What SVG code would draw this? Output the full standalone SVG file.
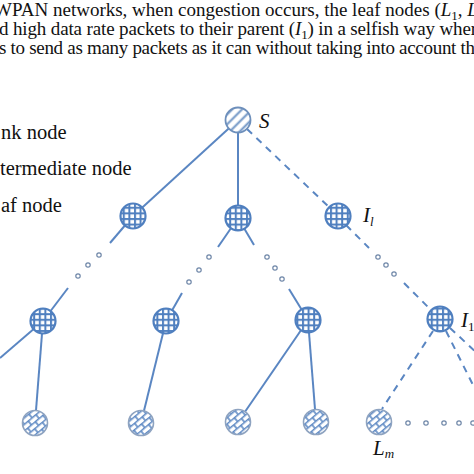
<svg xmlns="http://www.w3.org/2000/svg" width="474" height="474" viewBox="0 0 474 474">
<style>
.txt{font-family:"Liberation Serif","Times New Roman",serif;font-size:19px;fill:#111}
.leg{font-family:"Liberation Serif","Times New Roman",serif;font-size:20.5px;fill:#111}
.lbl{font-family:"Liberation Serif","Times New Roman",serif;font-size:21px;font-style:italic;fill:#111}
.sub{font-size:13px;font-style:italic}
.subn{font-size:13px;font-style:normal}
.solid{stroke:#5a86c2;stroke-width:2;fill:none}
.dash{stroke:#5a86c2;stroke-width:2;fill:none;stroke-dasharray:7 6}
.dot{fill:#fff;stroke:#6f87a8;stroke-width:1.2}
.sink{fill:url(#hatch);stroke:#6d8fbb;stroke-width:1.8}
.inter{fill:url(#grid);stroke:#4f7fbf;stroke-width:2.2}
.leaf{fill:url(#brick);stroke:#8ea3c0;stroke-width:1.6}
</style>
<defs>
<pattern id="hatch" patternUnits="userSpaceOnUse" width="7" height="7" patternTransform="rotate(-45)">
<rect width="7" height="7" fill="#fff"/>
<line x1="0" y1="3.5" x2="7" y2="3.5" stroke="#6d93c4" stroke-width="2"/>
</pattern>
<pattern id="grid" patternUnits="userSpaceOnUse" width="5.6" height="5.6" x="0.5" y="0.5">
<rect width="5.6" height="5.6" fill="#4f7fbf"/>
<rect x="1.1" y="1.1" width="3.6" height="3.6" fill="#fff"/>
</pattern>
<pattern id="brick" patternUnits="userSpaceOnUse" width="10" height="10" patternTransform="rotate(-40)">
<rect width="10" height="10" fill="#fff"/>
<path d="M0 0.8H10M0 5.8H10M1 0.8V5.8M6 5.8V10.8" stroke="#5f8ac4" stroke-width="1.6" fill="none"/>
</pattern>
</defs>

<g id="caption">
<text class="txt" x="-6" y="16">WPAN networks, when congestion occurs, the leaf nodes (<tspan font-style="italic">L</tspan><tspan class="subn" dy="4">1</tspan><tspan dy="-4">, </tspan><tspan font-style="italic">L</tspan><tspan class="subn" dy="4">2</tspan></text>
<text class="txt" x="-1" y="35" textLength="478" lengthAdjust="spacing">d high data rate packets to their parent (<tspan font-style="italic">I</tspan><tspan class="subn" dy="4">1</tspan><tspan dy="-4">) in a selfish way wher</tspan></text>
<text class="txt" x="-1" y="54" textLength="476" lengthAdjust="spacing">s to send as many packets as it can without taking into account th</text>
</g>

<g id="legend">
<text class="leg" x="1" y="139">nk node</text>
<text class="leg" x="0" y="175">termediate node</text>
<text class="leg" x="1" y="212">af node</text>
</g>

<g id="connectors">
<line class="solid" x1="238" y1="120" x2="133" y2="216"/>
<line class="solid" x1="238" y1="120" x2="238" y2="218"/>
<line class="dash" x1="247" y1="129" x2="330" y2="208"/>
<line class="solid" x1="133" y1="216" x2="110" y2="243"/>
<circle class="dot" cx="99" cy="255" r="2.2"/>
<circle class="dot" cx="88" cy="265" r="2.2"/>
<circle class="dot" cx="78" cy="276" r="2.2"/>
<line class="solid" x1="68" y1="288" x2="43" y2="321"/>
<line class="solid" x1="43" y1="321" x2="0" y2="358"/>
<line class="solid" x1="43" y1="321" x2="35" y2="423"/>
<line class="solid" x1="238" y1="218" x2="218" y2="247"/>
<circle class="dot" cx="209" cy="257" r="2.2"/>
<circle class="dot" cx="199" cy="270" r="2.2"/>
<circle class="dot" cx="189" cy="282" r="2.2"/>
<line class="solid" x1="182" y1="293" x2="166" y2="321"/>
<line class="solid" x1="238" y1="218" x2="254" y2="245"/>
<circle class="dot" cx="267" cy="257" r="2.2"/>
<circle class="dot" cx="275" cy="268" r="2.2"/>
<circle class="dot" cx="282" cy="279" r="2.2"/>
<line class="solid" x1="289" y1="289" x2="308" y2="320"/>
<line class="dash" x1="346" y1="225" x2="369" y2="248"/>
<circle class="dot" cx="378" cy="257" r="2.2"/>
<circle class="dot" cx="386" cy="265" r="2.2"/>
<circle class="dot" cx="394" cy="274" r="2.2"/>
<line class="dash" x1="404" y1="283" x2="432" y2="311"/>
<line class="solid" x1="166" y1="321" x2="141" y2="423"/>
<line class="solid" x1="308" y1="320" x2="238" y2="422"/>
<line class="solid" x1="308" y1="320" x2="316" y2="422"/>
<line class="dash" x1="433" y1="331" x2="382" y2="409"/>
<line class="dash" x1="446" y1="331" x2="478" y2="395"/>
<line class="dash" x1="450" y1="328" x2="478" y2="354"/>
<circle class="dot" cx="408" cy="423" r="2.2"/>
<circle class="dot" cx="426" cy="423" r="2.2"/>
<circle class="dot" cx="444" cy="423" r="2.2"/>
<circle class="dot" cx="459" cy="423" r="2.2"/>
<circle class="dot" cx="473" cy="423" r="2.2"/>
</g>

<g id="S"><circle class="sink" cx="238" cy="120" r="12.5"/><text class="lbl" x="259" y="128">S</text></g>
<g id="A1"><circle class="inter" cx="133" cy="216" r="12.5"/></g>
<g id="A2"><circle class="inter" cx="238" cy="218" r="12.5"/></g>
<g id="Il"><circle class="inter" cx="338" cy="216" r="12.5"/><text class="lbl" x="363" y="222">I<tspan class="sub" dy="4">l</tspan></text></g>
<g id="B1"><circle class="inter" cx="43" cy="321" r="12.5"/></g>
<g id="B2"><circle class="inter" cx="166" cy="321" r="12.5"/></g>
<g id="B3"><circle class="inter" cx="308" cy="320" r="12.5"/></g>
<g id="I1"><circle class="inter" cx="440" cy="319" r="12.5"/><text class="lbl" x="461" y="327">I<tspan class="subn" dy="4">1</tspan></text></g>
<g id="C1"><circle class="leaf" cx="35" cy="423" r="12.5"/></g>
<g id="C2"><circle class="leaf" cx="141" cy="423" r="12.5"/></g>
<g id="C3"><circle class="leaf" cx="238" cy="422" r="12.5"/></g>
<g id="C4"><circle class="leaf" cx="316" cy="422" r="12.5"/></g>
<g id="Lm"><circle class="leaf" cx="379" cy="422" r="12.5"/><text class="lbl" x="373" y="455">L<tspan class="sub" dy="3">m</tspan></text></g>
</svg>
